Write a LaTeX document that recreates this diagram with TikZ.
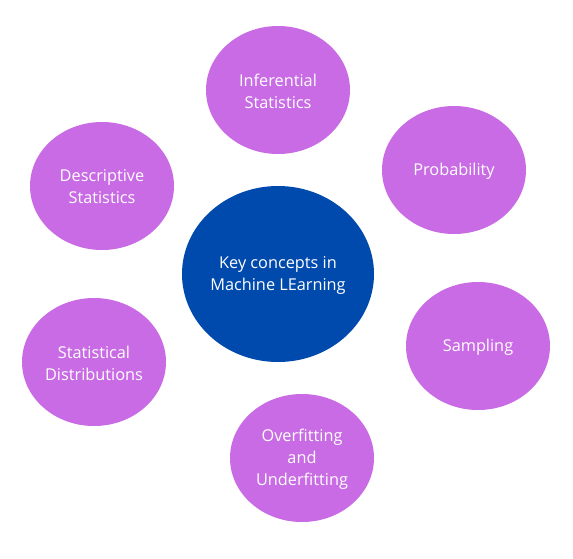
\documentclass[tikz,border=0pt]{standalone}
\usepackage{fontspec}
\setmainfont{Open Sans}
\usetikzlibrary{shapes.geometric}
\definecolor{bubble}{HTML}{C96BE4}
\definecolor{core}{HTML}{004AAD}
\begin{document}
\begin{tikzpicture}[x=1pt,y=-1pt,
  bub/.style={ellipse,fill=bubble,draw=none,minimum width=144pt,minimum height=128pt,inner sep=0pt,
    text=white,align=center,font=\fontsize{16.3}{22}\selectfont},
  corebub/.style={ellipse,fill=core,draw=none,minimum width=192pt,minimum height=176pt,inner sep=0pt,
    text=white,align=center,font=\fontsize{16.3}{22}\selectfont}]
\useasboundingbox (0,0) rectangle (573,558);
\node[corebub] (core) at (278,274) {};
\node[text=white,align=center,font=\fontsize{16.3}{22}\selectfont] (coret) at (278,275) {Key concepts in\\Machine LEarning};
\node[bub] (inf) at (278,90) {};
\node[text=white,align=center,font=\fontsize{16.3}{22}\selectfont] (inft) at (278,91) {Inferential\\Statistics};
\node[bub] (prob) at (454,170) {};
\node[text=white,font=\fontsize{16.3}{22}\selectfont] (probt) at (454,171) {Probability};
\node[bub] (desc) at (102,186) {};
\node[text=white,align=center,font=\fontsize{16.3}{22}\selectfont] (desct) at (102,187) {Descriptive\\Statistics};
\node[bub] (dist) at (94,362) {};
\node[text=white,align=center,font=\fontsize{16.3}{22}\selectfont] (distt) at (94,363) {Statistical\\Distributions};
\node[bub] (samp) at (478,346) {};
\node[text=white,font=\fontsize{16.3}{22}\selectfont] (sampt) at (478,347) {Sampling};
\node[bub] (over) at (302,458) {};
\node[text=white,align=center,font=\fontsize{16.3}{22}\selectfont] (overt) at (302,459) {Overfitting\\and\\Underfitting};
\end{tikzpicture}
\end{document}
